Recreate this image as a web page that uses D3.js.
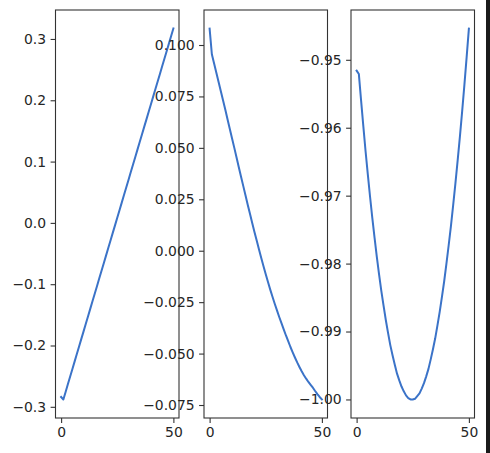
<!DOCTYPE html>
<html>
<head>
<meta charset="utf-8">
<script src="https://cdn.jsdelivr.net/npm/d3@7"></script>
<style>
  body { margin: 0; background: #fff; }
  svg { display: block; }
</style>
</head>
<body>
<div id="chart"></div>
<script>
// x positions (0..50)
const steps = d3.range(0, 51);

// values, one list per panel
const seriesA = [
  -0.284, -0.288, -0.2757, -0.2633, -0.251, -0.2386, -0.2263, -0.2139, -0.2016, -0.1892,
  -0.1769, -0.1645, -0.1522, -0.1398, -0.1275, -0.1151, -0.1028, -0.0904, -0.0781, -0.0657,
  -0.0534, -0.041, -0.0287, -0.0163, -0.004, 0.0084, 0.0207, 0.0331, 0.0454, 0.0578,
  0.0701, 0.0825, 0.0948, 0.1072, 0.1195, 0.1319, 0.1442, 0.1566, 0.1689, 0.1813,
  0.1936, 0.206, 0.2183, 0.2307, 0.243, 0.2554, 0.2677, 0.2801, 0.2924, 0.3048, 0.317
];
const seriesB = [
  0.108, 0.0955, 0.091, 0.0865, 0.082, 0.0775, 0.073, 0.0685, 0.0638, 0.0592,
  0.0546, 0.05, 0.0453, 0.0406, 0.036, 0.0314, 0.0268, 0.0222, 0.0178, 0.0134,
  0.009, 0.0048, 0.0006, -0.0035, -0.0075, -0.0114, -0.0152, -0.0189, -0.0224, -0.0258,
  -0.029, -0.0322, -0.0352, -0.0382, -0.0412, -0.044, -0.0468, -0.0494, -0.0519, -0.0543,
  -0.0565, -0.0586, -0.0605, -0.0622, -0.0638, -0.0652, -0.0666, -0.0682, -0.0697, -0.0711, -0.0723
];
const seriesC = [
  -0.9516, -0.9521, -0.956, -0.9598, -0.9635, -0.9669, -0.9702, -0.9733, -0.9762, -0.979,
  -0.9816, -0.984, -0.9862, -0.9883, -0.9902, -0.992, -0.9935, -0.9949, -0.9962, -0.9972,
  -0.9981, -0.9988, -0.9994, -0.9998, -1.0, -1.0, -0.9999, -0.9995, -0.9991, -0.9984,
  -0.9976, -0.9966, -0.9955, -0.9941, -0.9926, -0.991, -0.9891, -0.9871, -0.9849, -0.9826,
  -0.98, -0.9773, -0.9745, -0.9714, -0.9682, -0.9648, -0.9613, -0.9576, -0.9537, -0.9496, -0.9454
];

// tick labels
const xTicks = [0, 50];
const yTicksA = [-0.3, -0.2, -0.1, 0.0, 0.1, 0.2, 0.3];
const yTicksB = [-0.075, -0.05, -0.025, 0.0, 0.025, 0.05, 0.075, 0.1];
const yTicksC = [-1.0, -0.99, -0.98, -0.97, -0.96, -0.95];

const panels = [
  { values: seriesA, ticks: yTicksA, fmt: d3.format(".1f") },
  { values: seriesB, ticks: yTicksB, fmt: d3.format(".3f") },
  { values: seriesC, ticks: yTicksC, fmt: d3.format(".2f") }
];

const W = 490, H = 453;
const lefts = [55.5, 204, 351];
const panelW = 123.5;
const plotTop = 10, plotBottom = 418;
const tickLen = 4.9;
const fontSize = 13.9;

const svg = d3.select("#chart")
  .append("svg")
  .attr("width", W)
  .attr("height", H);

// pad a data extent by 5% on each side, like matplotlib does
const padded = (lo, hi) => {
  const m = (hi - lo) * 0.05;
  return [lo - m, hi + m];
};

panels.forEach((p, i) => {
  const g = svg.append("g")
    .attr("transform", `translate(${lefts[i]}, 0)`);

  const xScale = d3.scaleLinear()
    .domain(padded(d3.min(steps), d3.max(steps)))
    .range([0, panelW]);

  const yScale = d3.scaleLinear()
    .domain(padded(d3.min(p.values), d3.max(p.values)))
    .range([plotBottom, plotTop]);

  const line = d3.line()
    .x((d, j) => xScale(steps[j]))
    .y((d) => yScale(d));

  g.append("path")
    .datum(p.values)
    .attr("fill", "none")
    .attr("stroke", "#3b73c8")
    .attr("stroke-width", 2)
    .attr("stroke-linejoin", "round")
    .attr("stroke-linecap", "square")
    .attr("d", line);

  const xAxis = g.append("g")
    .attr("transform", `translate(0, ${plotBottom})`)
    .call(d3.axisBottom(xScale).tickValues(xTicks).tickFormat(d3.format("d"))
      .tickSize(tickLen).tickPadding(4.5));

  const yAxis = g.append("g")
    .call(d3.axisLeft(yScale).tickValues(p.ticks).tickFormat(p.fmt)
      .tickSize(tickLen).tickPadding(4.5));

  [xAxis, yAxis].forEach((ax) => {
    ax.select(".domain").remove();
    ax.selectAll(".tick line").attr("stroke", "#333").attr("stroke-width", 1.1);
    ax.selectAll(".tick text")
      .attr("fill", "#262626")
      .style("font-family", "'DejaVu Sans', sans-serif")
      .style("font-size", fontSize + "px");
  });

  // frame
  g.append("rect")
    .attr("x", 0)
    .attr("y", plotTop)
    .attr("width", panelW)
    .attr("height", plotBottom - plotTop)
    .attr("fill", "none")
    .attr("stroke", "#333")
    .attr("stroke-width", 1.1);
});

// dark strip at the right edge of the screenshot
svg.append("rect")
  .attr("x", 486)
  .attr("y", 0)
  .attr("width", 4)
  .attr("height", H)
  .attr("fill", "#1a1a1a");
</script>
</body>
</html>
